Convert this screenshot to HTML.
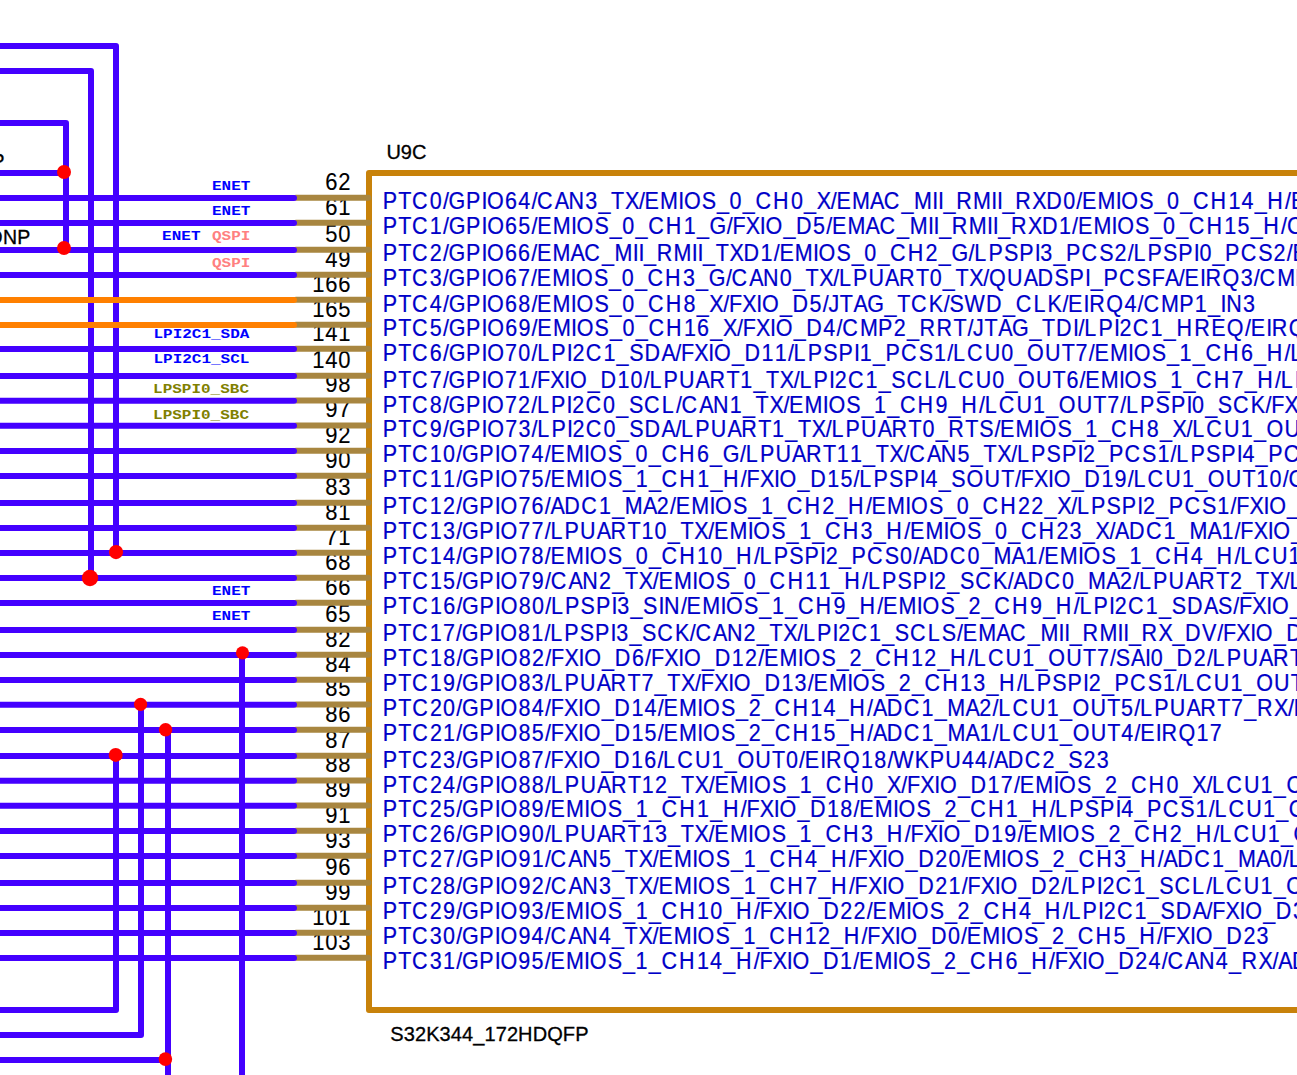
<!DOCTYPE html>
<html><head><meta charset="utf-8"><title>schematic</title>
<style>html,body{margin:0;padding:0;background:#fff;overflow:hidden}svg{display:block}text{font-family:"Liberation Sans",sans-serif}.w{stroke:#4400ff;stroke-width:6;stroke-linecap:round;stroke-linejoin:round;fill:none}.o{stroke:#ff8000;stroke-width:6;stroke-linecap:round;fill:none}.p{stroke:#a88640;stroke-width:6;stroke-linecap:round;fill:none}.n{font-size:22px;fill:#000;stroke:#000;stroke-width:.12;text-anchor:end;letter-spacing:0.8px}.t{font-size:21.5px;fill:#0000c8;stroke:#0000c8;stroke-width:.22}.m{font-family:"Liberation Mono",monospace;font-weight:bold;font-size:16px;text-anchor:end}.k{font-size:20px;fill:#000;stroke:#000;stroke-width:.3}</style></head><body>
<svg width="1297" height="1075" viewBox="0 0 1297 1075">
<rect width="1297" height="1075" fill="#fff"/>
<text class="k" transform="translate(-11.4 243.8) scale(1 1.05)" style="font-size:19.5px;letter-spacing:.2px">DNP</text>
<text class="k" transform="translate(-8.4 167.6) scale(1 1.05)" style="font-size:19.5px">P</text>
<text class="n" transform="translate(351.3 189.6) scale(1 1.09)">62</text>
<text class="n" transform="translate(351.3 214.6) scale(1 1.09)">61</text>
<text class="n" transform="translate(351.3 241.6) scale(1 1.09)">50</text>
<text class="n" transform="translate(351.3 266.6) scale(1 1.09)">49</text>
<text class="n" transform="translate(351.3 291.6) scale(1 1.09)">166</text>
<text class="n" transform="translate(351.3 316.6) scale(1 1.09)">165</text>
<text class="n" transform="translate(351.3 340.6) scale(1 1.09)">141</text>
<text class="n" transform="translate(351.3 367.6) scale(1 1.09)">140</text>
<text class="n" transform="translate(351.3 392.3) scale(1 1.09)">98</text>
<text class="n" transform="translate(351.3 417.4) scale(1 1.09)">97</text>
<text class="n" transform="translate(351.3 442.6) scale(1 1.09)">92</text>
<text class="n" transform="translate(351.3 467.6) scale(1 1.09)">90</text>
<text class="n" transform="translate(351.3 494.6) scale(1 1.09)">83</text>
<text class="n" transform="translate(351.3 519.6) scale(1 1.09)">81</text>
<text class="n" transform="translate(351.3 544.6) scale(1 1.09)">71</text>
<text class="n" transform="translate(351.3 569.6) scale(1 1.09)">68</text>
<text class="n" transform="translate(351.3 594.6) scale(1 1.09)">66</text>
<text class="n" transform="translate(351.3 621.6) scale(1 1.09)">65</text>
<text class="n" transform="translate(351.3 646.6) scale(1 1.09)">82</text>
<text class="n" transform="translate(351.3 671.6) scale(1 1.09)">84</text>
<text class="n" transform="translate(351.3 696.4) scale(1 1.09)">85</text>
<text class="n" transform="translate(351.3 721.6) scale(1 1.09)">86</text>
<text class="n" transform="translate(351.3 747.6) scale(1 1.09)">87</text>
<text class="n" transform="translate(351.3 772.4) scale(1 1.09)">88</text>
<text class="n" transform="translate(351.3 797.4) scale(1 1.09)">89</text>
<text class="n" transform="translate(351.3 822.6) scale(1 1.09)">91</text>
<text class="n" transform="translate(351.3 847.6) scale(1 1.09)">93</text>
<text class="n" transform="translate(351.3 874.6) scale(1 1.09)">96</text>
<text class="n" transform="translate(351.3 899.6) scale(1 1.09)">99</text>
<text class="n" transform="translate(351.3 924.6) scale(1 1.09)">101</text>
<text class="n" transform="translate(351.3 949.6) scale(1 1.09)">103</text>
<path d="M1310 173H369V1010H1310" fill="none" stroke="#c8820a" stroke-width="6" stroke-linejoin="round"/>
<path class="p" d="M296 197.8H368.4"/>
<path class="p" d="M296 222.8H368.4"/>
<path class="p" d="M296 249.8H368.4"/>
<path class="p" d="M296 274.8H368.4"/>
<path class="p" d="M296 299.8H368.4"/>
<path class="p" d="M296 324.8H368.4"/>
<path class="p" d="M296 348.8H368.4"/>
<path class="p" d="M296 375.8H368.4"/>
<path class="p" d="M296 400.5H368.4"/>
<path class="p" d="M296 425.6H368.4"/>
<path class="p" d="M296 450.8H368.4"/>
<path class="p" d="M296 475.8H368.4"/>
<path class="p" d="M296 502.8H368.4"/>
<path class="p" d="M296 527.8H368.4"/>
<path class="p" d="M296 552.8H368.4"/>
<path class="p" d="M296 577.8H368.4"/>
<path class="p" d="M296 602.8H368.4"/>
<path class="p" d="M296 629.8H368.4"/>
<path class="p" d="M296 654.8H368.4"/>
<path class="p" d="M296 679.8H368.4"/>
<path class="p" d="M296 704.6H368.4"/>
<path class="p" d="M296 729.8H368.4"/>
<path class="p" d="M296 755.8H368.4"/>
<path class="p" d="M296 780.6H368.4"/>
<path class="p" d="M296 805.6H368.4"/>
<path class="p" d="M296 830.8H368.4"/>
<path class="p" d="M296 855.8H368.4"/>
<path class="p" d="M296 882.8H368.4"/>
<path class="p" d="M296 907.8H368.4"/>
<path class="p" d="M296 932.8H368.4"/>
<path class="p" d="M296 957.8H368.4"/>
<path class="w" d="M-10 46H116V553M-10 71H91V578M-10 123H66V250M-10 173H66M-10 198.0H294M-10 223.0H294M-10 250.0H294M-10 275.0H294M-10 349.0H294M-10 376.0H294M-10 400.7H294M-10 425.8H294M-10 451.0H294M-10 476.0H294M-10 503.0H294M-10 528.0H294M-10 553.0H294M-10 578.0H294M-10 603.0H294M-10 630.0H294M-10 655.0H294M-10 680.0H294M-10 704.8H294M-10 730.0H294M-10 756.0H294M-10 780.8H294M-10 805.8H294M-10 831.0H294M-10 856.0H294M-10 883.0H294M-10 908.0H294M-10 933.0H294M-10 958.0H294M242 655V1090M141 705V1035H-10M168 730V1090M-10 1060H166M116 756V1010H-10"/>
<path class="o" d="M-10 300H294M-10 325H294"/>
<circle cx="64.0" cy="172.0" r="7.0" fill="#ff0000"/>
<circle cx="64.0" cy="248.0" r="7.0" fill="#ff0000"/>
<circle cx="116.0" cy="552.1" r="7.1" fill="#ff0000"/>
<circle cx="90.0" cy="578.0" r="8.2" fill="#ff0000"/>
<circle cx="242.5" cy="652.8" r="6.6" fill="#ff0000"/>
<circle cx="140.6" cy="704.3" r="6.6" fill="#ff0000"/>
<circle cx="165.6" cy="729.8" r="6.7" fill="#ff0000"/>
<circle cx="115.7" cy="754.9" r="7.0" fill="#ff0000"/>
<circle cx="165.4" cy="1059.1" r="6.8" fill="#ff0000"/>
<text class="m" transform="translate(250.4 190.2) scale(1 0.84)" fill="#0000ff">ENET</text>
<text class="m" transform="translate(250.4 215.0) scale(1 0.84)" fill="#0000ff">ENET</text>
<text class="m" transform="translate(250.4 240.0) scale(1 0.84)" fill="#ff8080">QSPI</text>
<text class="m" transform="translate(200.5 240.0) scale(1 0.84)" fill="#0000ff">ENET</text>
<text class="m" transform="translate(250.4 267.2) scale(1 0.84)" fill="#ff8080">QSPI</text>
<text class="m" transform="translate(249.4 338.0) scale(1 0.84)" fill="#0000ff">LPI2C1_SDA</text>
<text class="m" transform="translate(249.4 363.0) scale(1 0.84)" fill="#0000ff">LPI2C1_SCL</text>
<text class="m" transform="translate(249.0 393.4) scale(1 0.84)" fill="#808000">LPSPI0_SBC</text>
<text class="m" transform="translate(249.0 418.5) scale(1 0.84)" fill="#808000">LPSPI0_SBC</text>
<text class="m" transform="translate(250.4 594.8) scale(1 0.84)" fill="#0000ff">ENET</text>
<text class="m" transform="translate(250.4 619.9) scale(1 0.84)" fill="#0000ff">ENET</text>
<text class="t" transform="translate(0 209.1) scale(1 1.12)" x="382.7 398.2 412.1 429.7 442.9 448.6 465.9 481.4 487.1 505 518.2 531.4 537.1 554.7 568.5 585.3 598.4 611.1 624.9 638.9 644.6 660.1 678.2 683.9 701.8 717 729.6 742.8 755.4 773.1 790.9 804.1 816.7 830.7 836.4 851.9 870 883.8 901.5 914.1 932.2 937.9 943.5 956.2 973.1 991.3 996.9 1002.6 1015.2 1032.2 1046.2 1063.2 1076.3 1082.1 1097.5 1115.7 1121.3 1139.2 1154.5 1167.1 1180.3 1192.9 1210.6 1228.4 1241.5 1254.7 1267.3 1285.1 1290.9">PTC0/GPIO64/CAN3_TX/EMIOS_0_CH0_X/EMAC_MII_RMII_RXD0/EMIOS_0_CH14_H/E</text>
<text class="t" transform="translate(0 233.8) scale(1 1.12)" x="382.7 398.2 412.1 429.8 443 448.7 466 481.5 487.2 505.1 518.3 531.5 537.2 552.7 570.9 576.5 594.5 609.7 622.3 635.5 648.2 665.8 683.7 696.9 709.5 726.8 732.5 745.8 759.8 765.5 783.4 796 813 826.2 831.9 847.4 865.6 879.4 897.1 909.7 927.9 933.5 939.2 951.8 968.8 987 992.7 998.3 1011 1027.9 1041.9 1059 1072.1 1077.9 1093.4 1111.5 1117.2 1135.1 1150.3 1163 1176.2 1188.8 1206.5 1224.3 1237.5 1250.7 1263.3 1281.1 1286.9">PTC1/GPIO65/EMIOS_0_CH1_G/FXIO_D5/EMAC_MII_RMII_RXD1/EMIOS_0_CH15_H/C</text>
<text class="t" transform="translate(0 261.4) scale(1 1.12)" x="382.7 398.2 412.1 429.7 442.9 448.6 465.9 481.4 487 504.9 518.1 531.3 537 552.4 570.6 584.3 602 614.6 632.8 638.4 644.1 656.7 673.6 691.8 697.4 703.1 715.7 729.5 743.5 760.5 773.7 779.4 794.8 813 818.6 836.5 851.7 864.3 877.5 890.1 907.8 925.6 938.8 951.4 968.6 974.3 988.4 1003.9 1019.2 1034.7 1040.3 1053.5 1066.1 1081.6 1099.3 1114.5 1127.7 1133.4 1147.4 1163 1178.2 1193.7 1199.4 1212.5 1225.1 1240.7 1258.3 1273.5 1286.7 1292.4">PTC2/GPIO66/EMAC_MII_RMII_TXD1/EMIOS_0_CH2_G/LPSPI3_PCS2/LPSPI0_PCS2/E</text>
<text class="t" transform="translate(0 286.3) scale(1 1.12)" x="382.7 398.2 412 429.7 442.8 448.5 465.8 481.3 486.9 504.8 518 531.1 536.8 552.3 570.4 576 593.9 609.1 621.7 634.9 647.5 665.1 682.9 696.1 708.7 725.9 731.6 749.3 763 779.7 792.9 805.5 819.3 833.3 839 853 868.5 885.1 898.9 915.9 929.7 942.8 955.4 969.3 983.2 988.9 1007.1 1023.7 1037.4 1054.4 1069.6 1085.1 1090.8 1103.4 1118.9 1136.5 1151.7 1165 1178.8 1184.5 1199.9 1205.6 1222.5 1240.7 1253.8 1259.5 1277.2 1295.3">PTC3/GPIO67/EMIOS_0_CH3_G/CAN0_TX/LPUART0_TX/QUADSPI_PCSFA/EIRQ3/CMP</text>
<text class="t" transform="translate(0 311.6) scale(1 1.12)" x="382.7 398.2 412.1 429.8 443 448.7 465.9 481.5 487.1 505.1 518.2 531.4 537.1 552.6 570.8 576.4 594.4 609.6 622.2 635.4 648 665.7 683.5 696.7 709.3 723.3 729 742.3 756.3 762 779.9 792.5 809.5 822.7 828.4 839.7 853.5 867.3 884.6 897.2 911.1 928.8 943.7 949.4 964.6 986.1 1003.1 1015.8 1033.4 1047.5 1062.4 1068.1 1083.6 1089.3 1106.3 1124.5 1137.6 1143.4 1161 1179.2 1194.7 1207.9 1220.5 1226.2 1242.9">PTC4/GPIO68/EMIOS_0_CH8_X/FXIO_D5/JTAG_TCK/SWD_CLK/EIRQ4/CMP1_IN3</text>
<text class="t" transform="translate(0 336.1) scale(1 1.12)" x="382.7 398.3 412.1 429.8 443 448.7 466.1 481.6 487.3 505.2 518.4 531.6 537.3 552.9 571 576.7 594.6 609.9 622.5 635.7 648.4 666.1 683.9 697.1 710.3 723 737 742.7 756 770.1 775.7 793.7 806.3 823.3 836.5 842.2 859.9 878.1 893.7 906.9 919.5 936.5 953.5 967.4 973.1 984.4 998.2 1012.1 1029.4 1042 1055.9 1072.9 1078.6 1084.3 1098.4 1114 1119.6 1132.8 1150.5 1163.7 1176.4 1194.2 1211.2 1226.7 1245 1250.7 1266.2 1271.8 1288.8">PTC5/GPIO69/EMIOS_0_CH16_X/FXIO_D4/CMP2_RRT/JTAG_TDI/LPI2C1_HREQ/EIRQ</text>
<text class="t" transform="translate(0 360.9) scale(1 1.12)" x="382.7 398.2 412.1 429.8 443 448.7 466 481.5 487.2 505.1 518.3 531.5 537.2 551.3 566.8 572.5 585.7 603.4 616.6 629.2 644.5 661.5 675.3 681 694.3 708.3 714 731.9 744.5 761.5 774.7 787.9 793.6 807.7 823.2 838.5 854 859.7 872.9 885.5 901.1 918.8 934 947.2 952.9 967 984.7 1001.3 1014.5 1027.1 1045.1 1061.7 1075.6 1088.7 1094.5 1110 1128.1 1133.8 1151.7 1167 1179.6 1192.8 1205.4 1223.1 1240.9 1254.1 1266.7 1284.6 1290.3">PTC6/GPIO70/LPI2C1_SDA/FXIO_D11/LPSPI1_PCS1/LCU0_OUT7/EMIOS_1_CH6_H/L</text>
<text class="t" transform="translate(0 387.6) scale(1 1.12)" x="382.7 398.2 412.1 429.7 442.9 448.6 465.9 481.4 487 504.9 518.1 531.3 537 550.3 564.2 569.9 587.8 600.4 617.4 630.5 643.7 649.4 663.5 679 695.6 709.4 726.4 740.2 753.4 766 779.8 793.8 799.5 813.6 829.1 834.7 847.9 865.6 878.7 891.3 906.6 924.2 938.3 944 958.1 975.7 992.3 1005.5 1018.1 1036 1052.6 1066.5 1079.6 1085.3 1100.8 1118.9 1124.6 1142.5 1157.7 1170.3 1183.5 1196.1 1213.8 1231.6 1244.7 1257.3 1275.1 1280.8 1294.9">PTC7/GPIO71/FXIO_D10/LPUART1_TX/LPI2C1_SCL/LCU0_OUT6/EMIOS_1_CH7_H/LP</text>
<text class="t" transform="translate(0 413.2) scale(1 1.12)" x="382.7 398.2 412.1 429.7 442.9 448.6 465.9 481.4 487.1 505 518.1 531.3 537 551.1 566.6 572.3 585.4 603.1 616.3 628.9 644.1 661.8 675.9 681.6 699.2 713 729.8 742.9 755.6 769.4 783.4 789.1 804.6 822.7 828.4 846.3 861.5 874.1 887.3 899.9 917.6 935.4 948.5 961.2 979 984.7 998.7 1016.4 1033 1046.2 1058.8 1076.7 1093.3 1107.2 1120.3 1126 1140.1 1155.6 1170.9 1186.4 1192.1 1205.2 1217.8 1233.1 1250.7 1265.6 1271.3 1284.6 1298.6">PTC8/GPIO72/LPI2C0_SCL/CAN1_TX/EMIOS_1_CH9_H/LCU1_OUT7/LPSPI0_SCK/FXI</text>
<text class="t" transform="translate(0 437.4) scale(1 1.12)" x="382.7 398.3 412.1 429.8 443 448.7 466 481.6 487.2 505.2 518.4 531.6 537.3 551.4 566.9 572.6 585.8 603.5 616.7 629.3 644.6 661.6 675.4 681.1 695.2 710.8 727.4 741.2 758.2 772.1 785.3 797.9 811.8 825.8 831.5 845.6 861.1 877.8 891.6 908.6 922.5 935.7 948.3 965.3 979.2 994.4 1000.1 1015.6 1033.8 1039.5 1057.4 1072.7 1085.3 1098.5 1111.1 1128.8 1146.7 1159.9 1172.5 1186.5 1192.2 1206.3 1224 1240.7 1253.9 1266.5 1284.4">PTC9/GPIO73/LPI2C0_SDA/LPUART1_TX/LPUART0_RTS/EMIOS_1_CH8_X/LCU1_OU</text>
<text class="t" transform="translate(0 462.3) scale(1 1.12)" x="382.7 398.2 412.1 429.8 443 456.2 461.9 479.2 494.7 500.4 518.3 531.5 544.7 550.4 565.9 584.1 589.8 607.7 622.9 635.6 648.8 661.4 679.1 696.9 710.1 722.8 740.1 745.8 759.9 775.4 792.1 805.9 822.9 836.7 849.9 863.1 875.7 889.6 903.6 909.3 927 940.8 957.6 970.8 983.4 997.3 1011.3 1017 1031.1 1046.6 1061.9 1077.4 1083.1 1096.3 1108.9 1124.5 1142.1 1157.4 1170.6 1176.3 1190.4 1205.9 1221.2 1236.7 1242.4 1255.6 1268.2 1283.8">PTC10/GPIO74/EMIOS_0_CH6_G/LPUART11_TX/CAN5_TX/LPSPI2_PCS1/LPSPI4_PC</text>
<text class="t" transform="translate(0 487.3) scale(1 1.12)" x="382.7 398.3 412.1 429.8 443 456.2 462 479.3 494.8 500.5 518.4 531.6 544.8 550.6 566.1 584.3 589.9 607.9 623.1 635.8 649 661.6 679.3 697.2 710.4 723 740.8 746.6 759.9 773.9 779.6 797.5 810.2 827.2 840.4 853.6 859.3 873.4 889 904.2 919.8 925.5 938.7 951.3 966.6 984.5 1001.2 1015 1020.7 1034.1 1048.1 1053.8 1071.7 1084.3 1101.4 1114.6 1127.8 1133.5 1147.6 1165.3 1181.9 1195.2 1207.8 1225.7 1242.4 1256.3 1269.5 1282.7 1288.4">PTC11/GPIO75/EMIOS_1_CH1_H/FXIO_D15/LPSPI4_SOUT/FXIO_D19/LCU1_OUT10/C</text>
<text class="t" transform="translate(0 514.1) scale(1 1.12)" x="382.7 398.2 412.1 429.8 443 456.2 461.9 479.2 494.8 500.4 518.4 531.6 544.8 550.5 564.3 581.3 599 612.2 624.8 643 656.8 670 675.7 691.2 709.4 715.1 733 748.2 760.9 774.1 786.7 804.4 822.2 835.4 848.1 865.9 871.6 887.1 905.3 911 928.9 944.1 956.8 970 982.6 1000.3 1018.1 1031.3 1044.5 1057.2 1071.2 1076.9 1091 1106.5 1121.8 1137.3 1143 1156.2 1168.8 1184.4 1202.1 1217.3 1230.5 1236.2 1249.5 1263.6 1269.2 1287.1 1299.8">PTC12/GPIO76/ADC1_MA2/EMIOS_1_CH2_H/EMIOS_0_CH22_X/LPSPI2_PCS1/FXIO_D</text>
<text class="t" transform="translate(0 539.2) scale(1 1.12)" x="382.7 398.2 412.1 429.8 443 456.2 461.9 479.2 494.8 500.4 518.3 531.5 544.7 550.4 564.5 580.1 596.7 610.5 627.5 641.4 654.6 667.8 680.4 694.3 708.3 714 729.5 747.7 753.3 771.3 786.5 799.2 812.3 825 842.7 860.5 873.7 886.3 904.2 909.9 925.4 943.5 949.2 967.1 982.4 995 1008.2 1020.9 1038.5 1056.4 1069.6 1082.8 1095.4 1109.4 1115.1 1128.9 1145.9 1163.6 1176.8 1189.5 1207.6 1221.4 1234.6 1240.3 1253.7 1267.7 1273.3 1291.3">PTC13/GPIO77/LPUART10_TX/EMIOS_1_CH3_H/EMIOS_0_CH23_X/ADC1_MA1/FXIO_</text>
<text class="t" transform="translate(0 563.9) scale(1 1.12)" x="382.7 398.3 412.1 429.8 443 456.2 461.9 479.2 494.8 500.5 518.4 531.6 544.8 550.5 566 584.2 589.8 607.8 623 635.7 648.9 661.5 679.2 697 710.2 723.4 736.1 753.9 759.6 773.7 789.3 804.5 820.1 825.7 838.9 851.6 867.1 884.8 900.1 913.3 919 932.8 949.8 967.5 980.7 993.4 1011.5 1025.3 1038.5 1044.2 1059.8 1077.9 1083.6 1101.5 1116.8 1129.4 1142.6 1155.3 1173 1190.8 1204 1216.6 1234.5 1240.2 1254.3 1272 1288.6">PTC14/GPIO78/EMIOS_0_CH10_H/LPSPI2_PCS0/ADC0_MA1/EMIOS_1_CH4_H/LCU1</text>
<text class="t" transform="translate(0 589.1) scale(1 1.12)" x="382.7 398.3 412.2 429.9 443.1 456.3 462 479.3 494.9 500.6 518.5 531.7 545 550.7 568.4 582.2 599 612.2 624.9 638.8 652.8 658.5 674 692.2 697.9 715.8 731.1 743.8 757 769.6 787.4 805.2 818.4 831.6 844.3 862.1 867.9 882 897.5 912.8 928.4 934 947.3 959.9 975.2 992.9 1007.8 1013.6 1027.4 1044.4 1062.1 1075.4 1088 1106.2 1120 1133.2 1139 1153.1 1168.6 1185.3 1199.1 1216.2 1230 1243.3 1255.9 1269.8 1283.8 1289.5">PTC15/GPIO79/CAN2_TX/EMIOS_0_CH11_H/LPSPI2_SCK/ADC0_MA2/LPUART2_TX/L</text>
<text class="t" transform="translate(0 614.0) scale(1 1.12)" x="382.7 398.3 412.2 429.9 443.2 456.4 462.1 479.5 495.1 500.7 518.7 532 545.2 550.9 565 580.6 595.9 611.5 617.2 630.4 643.1 658.4 664.1 680.9 686.6 702.2 720.4 726.1 744 759.3 772 785.2 797.9 815.6 833.5 846.7 859.4 877.3 883 898.6 916.8 922.5 940.4 955.7 968.4 981.6 994.3 1012 1029.9 1043.2 1055.8 1073.7 1079.4 1093.6 1109.1 1114.8 1128.1 1145.8 1159 1171.7 1187 1204 1217.9 1233.2 1238.9 1252.3 1266.3 1272 1290">PTC16/GPIO80/LPSPI3_SIN/EMIOS_1_CH9_H/EMIOS_2_CH9_H/LPI2C1_SDAS/FXIO_</text>
<text class="t" transform="translate(0 641.4) scale(1 1.12)" x="382.7 398.2 412.1 429.7 442.9 456.1 461.8 479.1 494.6 500.2 518.1 531.3 544.5 550.2 564.3 579.8 595 610.5 616.2 629.4 642 657.2 674.9 689.8 695.5 713.1 726.9 743.6 756.8 769.4 783.3 797.3 803 817 832.6 838.2 851.4 869 882.2 894.8 910.1 927.7 941.8 957 962.7 978.2 996.3 1010.1 1027.8 1040.4 1058.5 1064.2 1069.8 1082.5 1099.4 1117.6 1123.2 1128.9 1141.5 1158.5 1172.4 1185.1 1202.1 1217.2 1222.9 1236.2 1250.2 1255.8 1273.7 1286.3">PTC17/GPIO81/LPSPI3_SCK/CAN2_TX/LPI2C1_SCLS/EMAC_MII_RMII_RX_DV/FXIO_D</text>
<text class="t" transform="translate(0 666.3) scale(1 1.12)" x="382.7 398.3 412.2 430 443.2 456.4 462.2 479.5 495.1 500.8 518.8 532.1 545.3 551 564.4 578.5 584.2 602.1 614.8 631.9 645.1 650.9 664.2 678.3 684 702 714.7 731.7 745 758.2 763.9 779.5 797.7 803.4 821.4 836.7 849.4 862.6 875.3 893.1 911 924.2 937.4 950.1 968 973.7 987.9 1005.6 1022.3 1035.6 1048.3 1066.2 1082.9 1096.9 1110.1 1115.8 1131.1 1145 1150.7 1163.9 1176.6 1193.7 1206.9 1212.6 1226.8 1242.4 1259.1 1272.9 1290">PTC18/GPIO82/FXIO_D6/FXIO_D12/EMIOS_2_CH12_H/LCU1_OUT7/SAI0_D2/LPUART</text>
<text class="t" transform="translate(0 691.0) scale(1 1.12)" x="382.7 398.2 412.1 429.8 443 456.2 461.9 479.2 494.8 500.4 518.4 531.6 544.7 550.5 564.6 580.1 596.7 610.6 627.5 641.4 654.6 667.2 681.1 695.1 700.8 714.2 728.2 733.8 751.8 764.4 781.4 794.6 807.8 813.5 829 847.2 852.8 870.8 886 898.7 911.9 924.5 942.2 960 973.2 986.4 999 1016.9 1022.6 1036.7 1052.2 1067.5 1083 1088.7 1101.9 1114.5 1130.1 1147.8 1163 1176.2 1181.9 1196 1213.7 1230.4 1243.5 1256.2 1274.1 1290.8">PTC19/GPIO83/LPUART7_TX/FXIO_D13/EMIOS_2_CH13_H/LPSPI2_PCS1/LCU1_OUT</text>
<text class="t" transform="translate(0 716.1) scale(1 1.12)" x="382.7 398.3 412.2 429.9 443.1 456.3 462 479.3 494.9 500.6 518.5 531.7 545 550.7 564 578 583.7 601.7 614.3 631.4 644.6 657.8 663.5 679 697.2 702.9 720.9 736.1 748.8 762 774.6 792.4 810.2 823.4 836.6 849.3 867.1 872.9 886.7 903.7 921.4 934.7 947.3 965.5 979.3 992.5 998.3 1012.4 1030.1 1046.8 1060 1072.6 1090.6 1107.2 1121.1 1134.3 1140.1 1154.2 1169.7 1186.4 1200.2 1217.2 1231.1 1244.3 1257 1274 1288 1293.8">PTC20/GPIO84/FXIO_D14/EMIOS_2_CH14_H/ADC1_MA2/LCU1_OUT5/LPUART7_RX/E</text>
<text class="t" transform="translate(0 740.9) scale(1 1.12)" x="382.7 398.3 412.2 429.9 443.1 456.3 462 479.4 494.9 500.6 518.6 531.8 545 550.7 564 578.1 583.8 601.7 614.4 631.4 644.6 657.8 663.6 679.1 697.3 703 720.9 736.2 748.8 762.1 774.7 792.4 810.3 823.5 836.7 849.4 867.2 872.9 886.8 903.8 921.5 934.7 947.4 965.6 979.4 992.6 998.4 1012.5 1030.2 1046.9 1060.1 1072.7 1090.7 1107.3 1121.2 1134.4 1140.2 1155.7 1161.4 1178.4 1196.6 1209.8">PTC21/GPIO85/FXIO_D15/EMIOS_2_CH15_H/ADC1_MA1/LCU1_OUT4/EIRQ17</text>
<text class="t" transform="translate(0 767.6) scale(1 1.12)" x="382.7 398.2 412.1 429.8 443 456.2 461.9 479.2 494.8 500.4 518.4 531.6 544.8 550.5 563.8 577.8 583.5 601.4 614 631 644.2 657.4 663.1 677.2 694.9 711.6 724.8 737.4 755.3 772 785.9 799 804.8 820.3 825.9 842.9 861.1 874.3 887.5 893.2 914.8 929.7 945.3 961.9 975.1 988.3 994 1007.8 1024.8 1042.5 1055.7 1068.3 1083.6 1096.8">PTC23/GPIO87/FXIO_D16/LCU1_OUT0/EIRQ18/WKPU44/ADC2_S23</text>
<text class="t" transform="translate(0 793.2) scale(1 1.12)" x="382.7 398.3 412.2 429.9 443.1 456.3 462 479.4 494.9 500.6 518.6 531.8 545 550.7 564.8 580.4 597.1 610.9 627.9 641.8 655 668.2 680.9 694.8 708.8 714.5 730.1 748.3 753.9 771.9 787.2 799.8 813 825.7 843.4 861.3 874.5 887.1 901.2 906.9 920.2 934.3 939.9 957.9 970.5 987.6 1000.8 1014 1019.7 1035.3 1053.5 1059.1 1077.1 1092.4 1105 1118.2 1130.9 1148.6 1166.5 1179.7 1192.3 1206.4 1212.1 1226.2 1243.9 1260.6 1273.8 1286.5">PTC24/GPIO88/LPUART12_TX/EMIOS_1_CH0_X/FXIO_D17/EMIOS_2_CH0_X/LCU1_O</text>
<text class="t" transform="translate(0 817.4) scale(1 1.12)" x="382.7 398.3 412.1 429.8 443 456.2 461.9 479.2 494.8 500.5 518.4 531.6 544.8 550.5 566 584.2 589.9 607.8 623.1 635.7 648.9 661.5 679.2 697.1 710.3 722.9 740.7 746.5 759.8 773.8 779.5 797.4 810 827.1 840.3 853.5 859.2 874.7 892.9 898.5 916.5 931.7 944.4 957.6 970.2 987.9 1005.7 1018.9 1031.6 1049.4 1055.1 1069.2 1084.8 1100 1115.6 1121.3 1134.5 1147.1 1162.7 1180.3 1195.6 1208.8 1214.5 1228.6 1246.3 1263 1276.2 1288.8">PTC25/GPIO89/EMIOS_1_CH1_H/FXIO_D18/EMIOS_2_CH1_H/LPSPI4_PCS1/LCU1_O</text>
<text class="t" transform="translate(0 842.3) scale(1 1.12)" x="382.7 398.3 412.1 429.8 443.1 456.3 462 479.3 494.9 500.5 518.5 531.7 544.9 550.6 564.7 580.3 596.9 610.8 627.8 641.7 654.9 668.1 680.7 694.6 708.6 714.3 729.9 748 753.7 771.7 786.9 799.6 812.8 825.4 843.1 861 874.2 886.8 904.7 910.4 923.7 937.8 943.4 961.4 974 991.1 1004.3 1017.5 1023.2 1038.7 1056.9 1062.6 1080.5 1095.8 1108.4 1121.6 1134.3 1152 1169.8 1183 1195.7 1213.5 1219.3 1233.4 1251.1 1267.7 1280.9 1293.6">PTC26/GPIO90/LPUART13_TX/EMIOS_1_CH3_H/FXIO_D19/EMIOS_2_CH2_H/LCU1_O</text>
<text class="t" transform="translate(0 867.3) scale(1 1.12)" x="382.7 398.3 412.1 429.9 443.1 456.3 462 479.3 494.9 500.6 518.5 531.7 544.9 550.6 568.3 582.2 599 612.2 624.8 638.7 652.7 658.4 674 692.2 697.8 715.8 731 743.7 756.9 769.6 787.3 805.1 818.3 831 848.8 854.5 867.9 881.9 887.6 905.5 918.2 935.2 948.4 961.6 967.3 982.9 1001.1 1006.7 1024.7 1039.9 1052.6 1065.8 1078.5 1096.2 1114 1127.2 1139.9 1157.7 1163.4 1177.3 1194.3 1212 1225.2 1237.9 1256.1 1269.9 1283.1 1288.8">PTC27/GPIO91/CAN5_TX/EMIOS_1_CH4_H/FXIO_D20/EMIOS_2_CH3_H/ADC1_MA0/L</text>
<text class="t" transform="translate(0 894.1) scale(1 1.12)" x="382.7 398.3 412.2 429.9 443.1 456.3 462 479.3 494.9 500.6 518.5 531.7 544.9 550.7 568.4 582.2 599 612.2 624.9 638.7 652.8 658.5 674 692.2 697.9 715.8 731.1 743.7 757 769.6 787.3 805.2 818.4 831 848.9 854.6 867.9 882 887.6 905.6 918.2 935.3 948.5 961.7 967.4 980.8 994.8 1000.5 1018.4 1031.1 1048.1 1061.3 1067 1081.1 1096.7 1102.4 1115.6 1133.3 1146.5 1159.2 1174.4 1192.1 1206.3 1212 1226.1 1243.8 1260.5 1273.7 1286.3">PTC28/GPIO92/CAN3_TX/EMIOS_1_CH7_H/FXIO_D21/FXIO_D2/LPI2C1_SCL/LCU1_O</text>
<text class="t" transform="translate(0 919.2) scale(1 1.12)" x="382.7 398.3 412.1 429.8 443 456.2 461.9 479.3 494.8 500.5 518.4 531.6 544.8 550.5 566 584.2 589.9 607.8 623.1 635.7 648.9 661.6 679.3 697.1 710.3 723.5 736.1 754 759.7 773 787 792.7 810.6 823.3 840.3 853.5 866.7 872.4 887.9 906.1 911.8 929.7 945 957.6 970.8 983.5 1001.2 1019 1032.2 1044.8 1062.7 1068.4 1082.5 1098 1103.7 1116.9 1134.6 1147.8 1160.4 1175.7 1192.7 1206.5 1212.3 1225.6 1239.6 1245.3 1263.2 1275.8 1292.9">PTC29/GPIO93/EMIOS_1_CH10_H/FXIO_D22/EMIOS_2_CH4_H/LPI2C1_SDA/FXIO_D3</text>
<text class="t" transform="translate(0 943.9) scale(1 1.12)" x="382.7 398.3 412.1 429.8 443 456.2 461.9 479.2 494.8 500.5 518.4 531.6 544.8 550.5 568.2 582 598.8 612 624.6 638.5 652.5 658.2 673.7 691.9 697.5 715.5 730.7 743.4 756.6 769.2 786.9 804.7 817.9 831.1 843.8 861.6 867.3 880.7 894.7 900.3 918.3 930.9 947.9 961.1 966.8 982.3 1000.5 1006.2 1024.1 1039.4 1052 1065.2 1077.8 1095.5 1113.4 1126.6 1139.2 1157 1162.8 1176.1 1190.1 1195.8 1213.7 1226.3 1243.4 1256.6">PTC30/GPIO94/CAN4_TX/EMIOS_1_CH12_H/FXIO_D0/EMIOS_2_CH5_H/FXIO_D23</text>
<text class="t" transform="translate(0 968.8) scale(1 1.12)" x="382.7 398.2 412.1 429.8 443 456.2 461.9 479.2 494.7 500.4 518.3 531.5 544.7 550.4 565.9 584.1 589.8 607.7 622.9 635.6 648.8 661.4 679.1 696.9 710.1 723.3 735.9 753.8 759.5 772.8 786.8 792.5 810.4 823 840 853.2 858.9 874.4 892.6 898.3 916.2 931.4 944.1 957.3 969.9 987.6 1005.4 1018.6 1031.2 1049.1 1054.8 1068.1 1082.1 1087.8 1105.7 1118.3 1135.3 1148.5 1161.7 1167.4 1185.1 1198.9 1215.7 1228.9 1241.5 1258.5 1272.5 1278.2 1292">PTC31/GPIO95/EMIOS_1_CH14_H/FXIO_D1/EMIOS_2_CH6_H/FXIO_D24/CAN4_RX/AD</text>
<text class="k" transform="translate(386.4 158.7) scale(1 1.04)">U9C</text>
<text class="k" transform="translate(390.3 1040.7) scale(1 1.04)" style="letter-spacing:0.1px">S32K344_172HDQFP</text>
</svg></body></html>
